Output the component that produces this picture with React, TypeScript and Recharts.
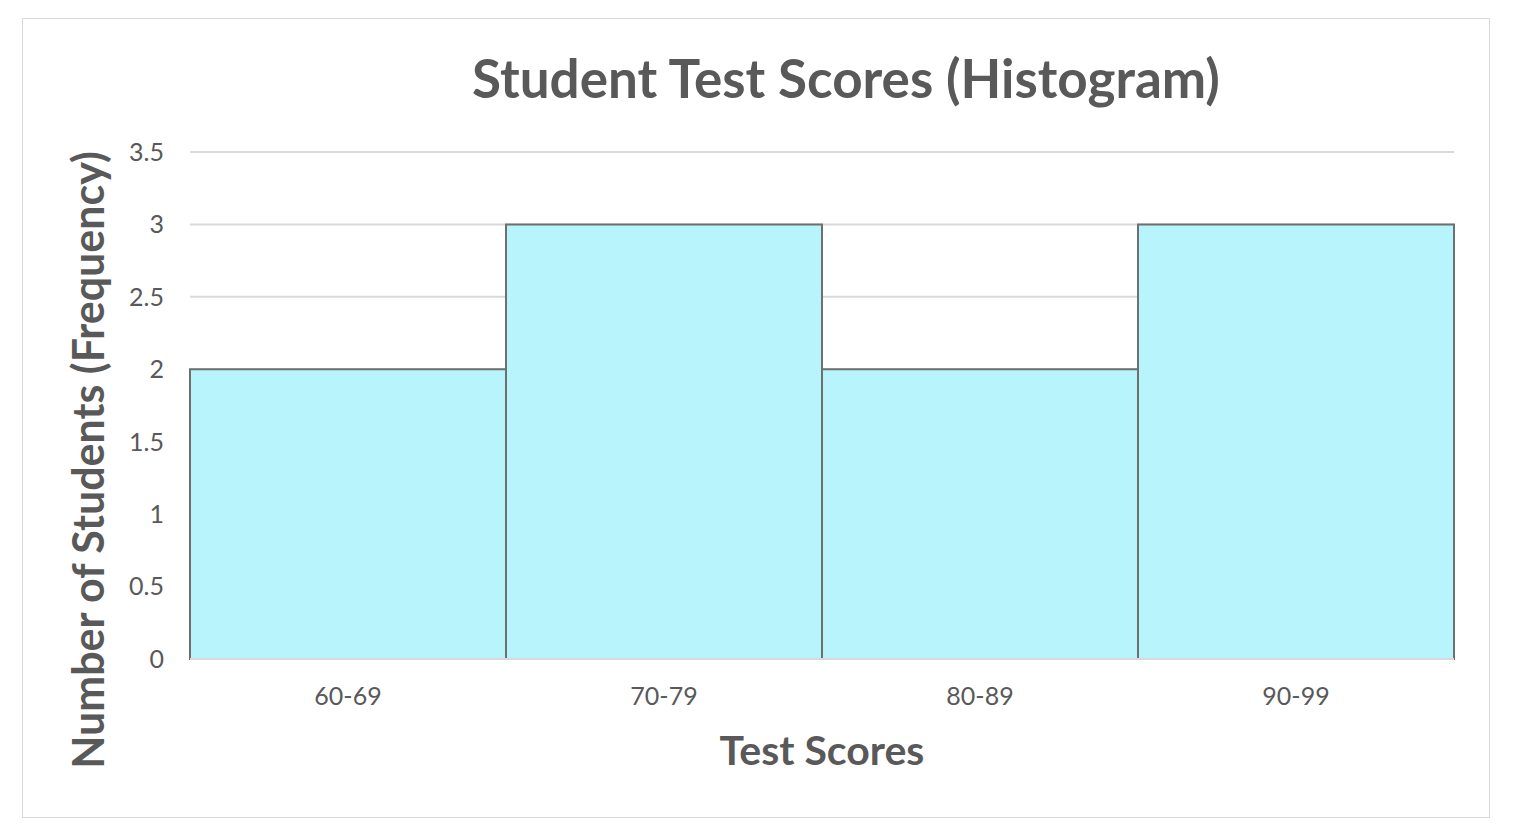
import React from 'react';
import { BarChart, Bar, XAxis, YAxis, CartesianGrid, Label } from 'recharts';

const scoreRanges = ['60-69', '70-79', '80-89', '90-99'];
const studentCounts = [2, 3, 2, 3];
const yTicks = [0, 0.5, 1, 1.5, 2, 2.5, 3, 3.5];

const data = scoreRanges.map((range, i) => ({ range, students: studentCounts[i] }));

const FONT = 'Lato, "Open Sans", sans-serif';
const TEXT = '#595959';

export default function App() {
  return (
    <div style={{ position: 'absolute', left: 0, top: 0, width: 1514, height: 830, background: '#fff', fontFamily: FONT }}>
      <div
        style={{
          position: 'absolute',
          left: 22,
          top: 18,
          width: 1466,
          height: 798,
          border: '1.5px solid #d9d9d9'
        }}
      />
      <div
        style={{
          position: 'absolute',
          left: 0,
          width: 1692,
          top: 46,
          textAlign: 'center',
          fontSize: 53,
          fontWeight: 700,
          color: TEXT
        }}
      >
        Student Test Scores (Histogram)
      </div>
      <div style={{ position: 'absolute', left: 0, top: 0 }}>
        <BarChart
          width={1514}
          height={830}
          data={data}
          margin={{ top: 152, right: 60, bottom: 0, left: 130 }}
          barCategoryGap={0}
        >
          <CartesianGrid vertical={false} stroke="#d9d9d9" strokeWidth={2} />
          <XAxis
            dataKey="range"
            axisLine={{ stroke: '#d9d9d9', strokeWidth: 2 }}
            tickLine={false}
            tickMargin={22}
            height={171}
            tick={{ fill: TEXT, fontSize: 25, fontFamily: FONT }}
          >
            <Label
              content={() => (
                <text x={822} y={765} textAnchor="middle" fill={TEXT} fontSize={41} fontWeight={700} fontFamily={FONT}>
                  Test Scores
                </text>
              )}
            />
          </XAxis>
          <YAxis
            width={60}
            domain={[0, 3.5]}
            ticks={yTicks}
            axisLine={false}
            tickLine={false}
            tickMargin={20}
            tick={{ fill: TEXT, fontSize: 25, fontFamily: FONT }}
          >
            <Label
              content={() => (
                <text
                  x={104}
                  y={460}
                  transform="rotate(-90, 104, 460)"
                  textAnchor="middle"
                  fill={TEXT}
                  fontSize={43}
                  fontWeight={700}
                  fontFamily={FONT}
                >
                  Number of Students (Frequency)
                </text>
              )}
            />
          </YAxis>
          <Bar dataKey="students" fill="#b7f4fb" stroke="#6f6f6f" strokeWidth={2} isAnimationActive={false} />
        </BarChart>
      </div>
    </div>
  );
}
